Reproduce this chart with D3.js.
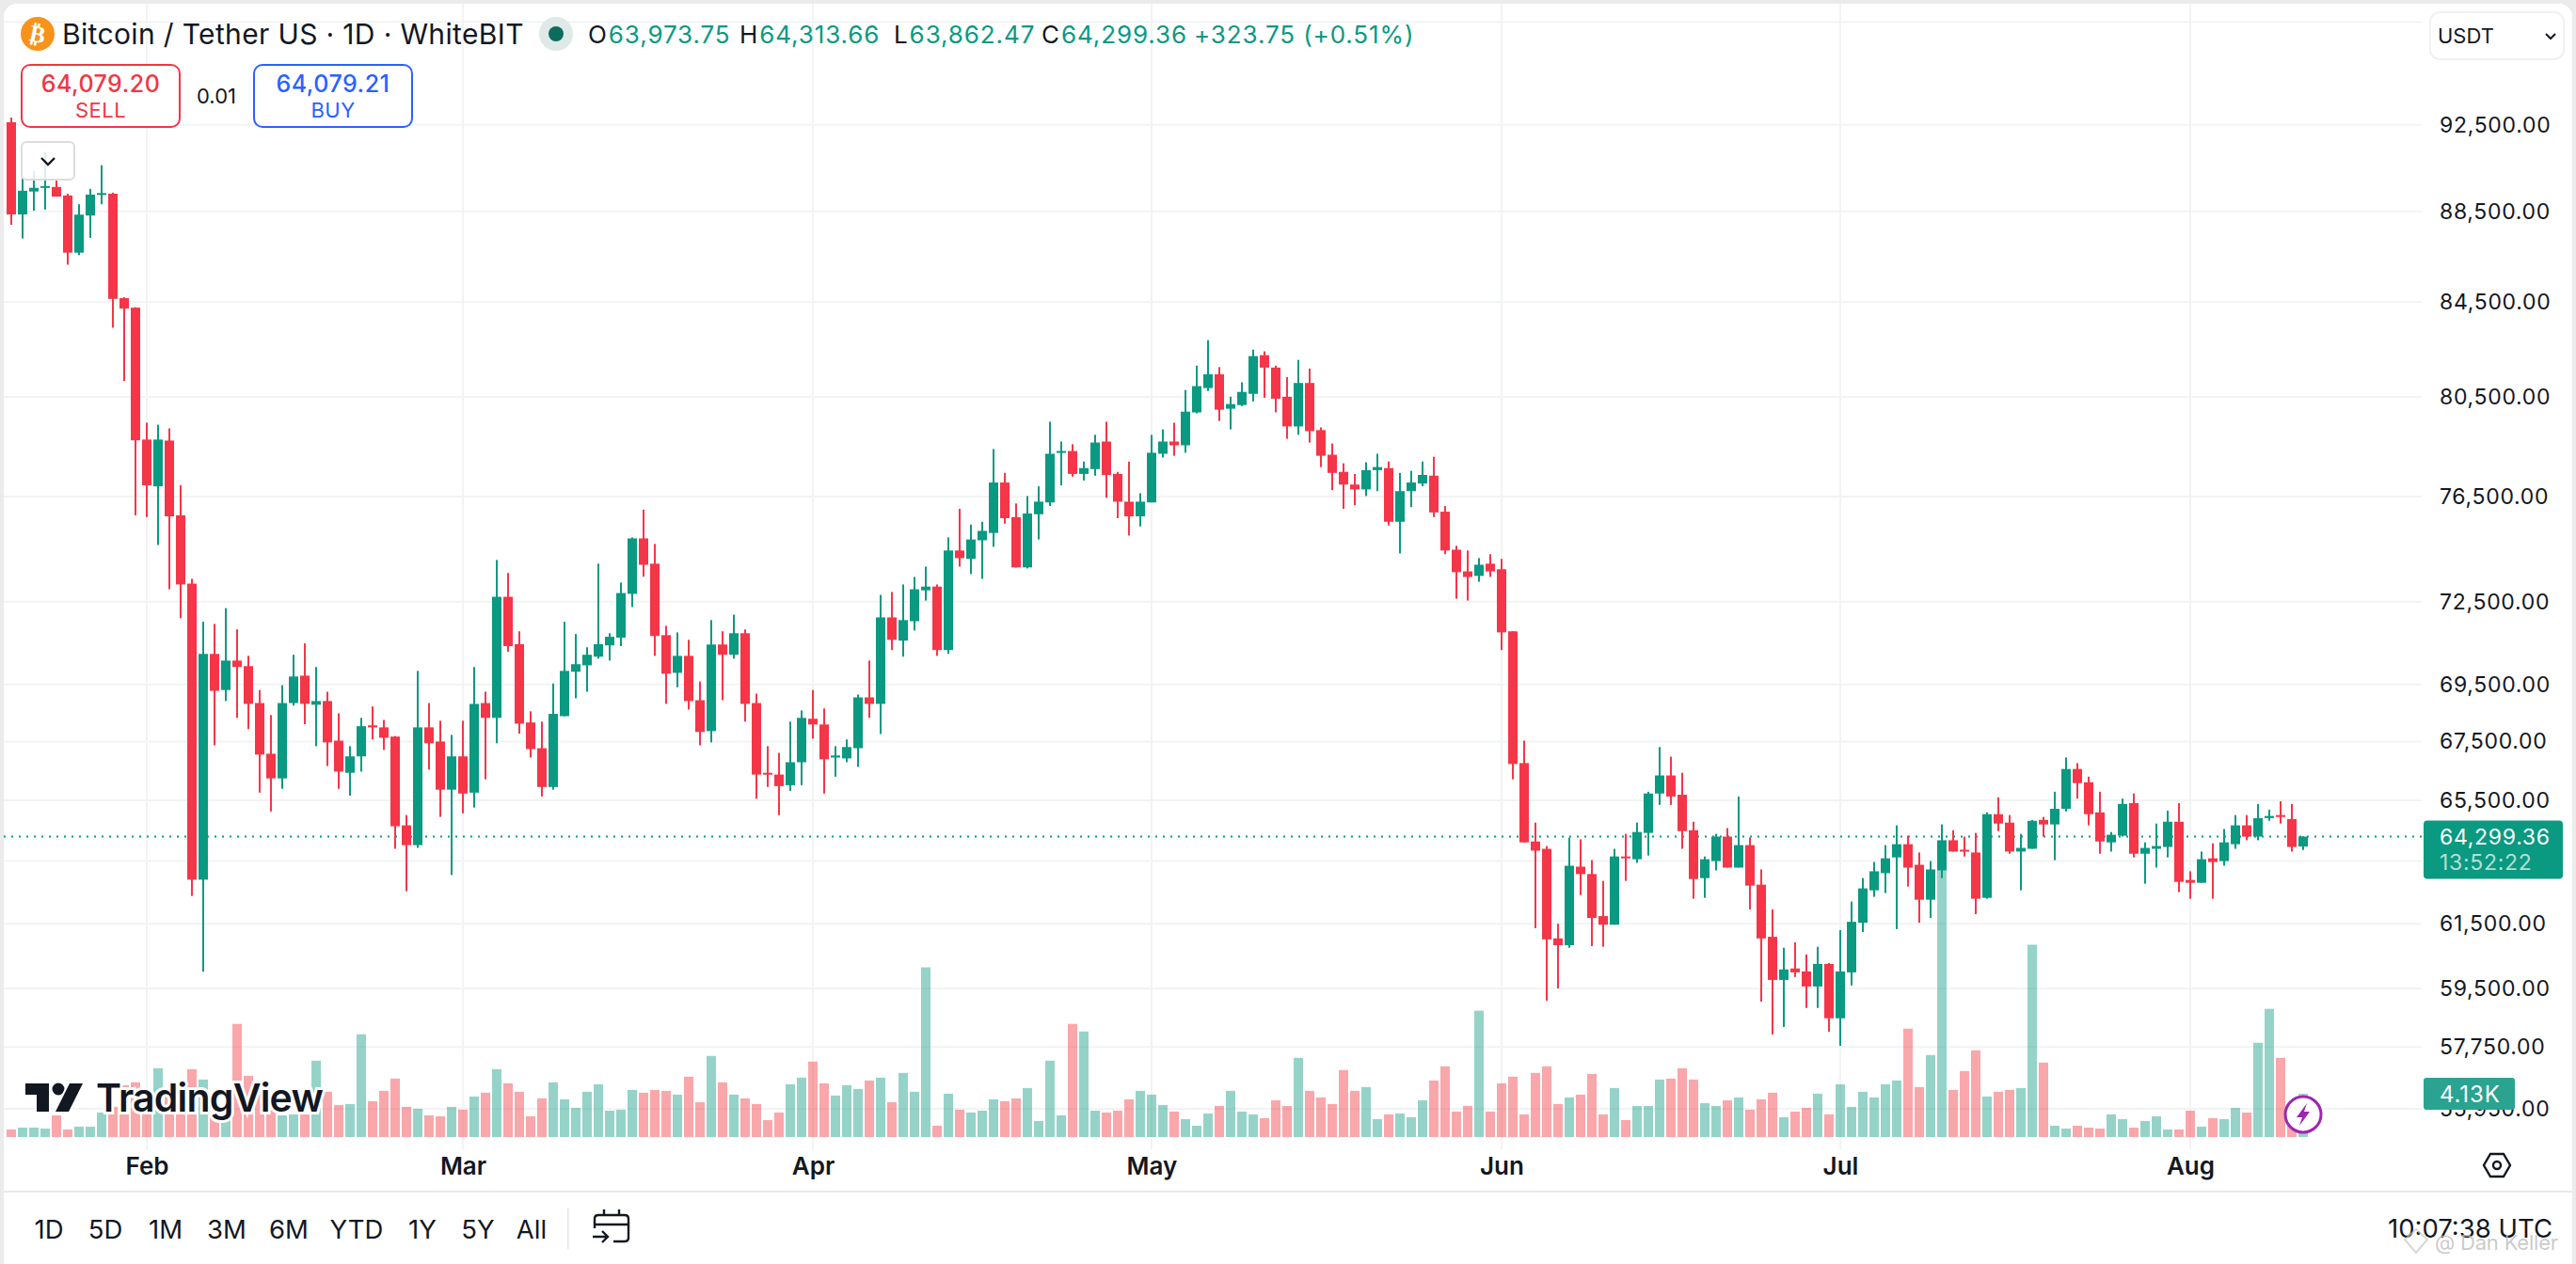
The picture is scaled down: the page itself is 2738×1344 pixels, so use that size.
<!DOCTYPE html>
<html>
<head>
<meta charset="utf-8">
<title>BTC/USDT 1D</title>
<script src="https://cdnjs.cloudflare.com/ajax/libs/d3/7.8.5/d3.min.js"></script>
<style>
  html, body {margin: 0; padding: 0; background: #ebebeb;}
  svg {display: block;}
  text {font-family: Inter, "Noto Sans", sans-serif;}
</style>
</head>
<body>
<svg id="chart" width="2738" height="1344"></svg>
<script>
var firstDay = '2026-01-20';

var opens = [92620,88360,89400,89590,89610,89220,86650,88310,89270,89300,
  84660,84250,78760,76900,78720,75770,73170,62900,70590,69300,
  70350,70150,68840,67080,66240,68840,69810,68780,68910,67530,
  66430,66990,68060,67990,67670,64670,64020,67990,67500,65860,
  66990,65760,68840,68320,72680,70940,68160,67270,65950,68380,
  69950,70180,70490,70900,71180,72790,74880,73920,71270,69910,
  70520,68940,67860,70930,70560,71340,68840,66430,66370,66010,
  66790,68290,68090,66950,66920,67270,69040,68810,71920,71070,
  71780,72920,73060,70730,74420,74100,74810,75090,77050,75700,
  73780,75810,76270,78230,78300,77390,77580,78680,77390,76300,
  75730,76270,78190,78680,78530,79860,80860,81430,80010,80160,
  80620,82230,81710,80500,79290,81070,79140,78150,77470,76970,
  76780,77540,77620,75520,76710,77010,77320,75910,74450,73630,
  73460,73920,73710,71410,66760,64140,63900,61040,60830,63320,
  63080,61740,61470,63650,63560,64420,65730,66340,65690,64510,
  62950,63500,64300,63290,64020,62740,61090,59760,60110,60020,
  59560,60250,58600,59990,61530,62560,63110,63620,64050,63380,
  62260,63200,64180,63870,63780,62320,65040,64760,63810,63900,
  64850,64700,65220,66560,66110,65100,64110,64330,65410,63740,
  63900,63960,64790,62890,62800,63590,63500,64050,64670,64300,
  64910,65010,64880,63973.75];

var highs = [92840,90000,90350,91220,89930,89300,88820,89520,90610,89350,
  84700,84270,79440,79360,79210,76940,73350,71760,71680,72260,
  71480,70520,69300,68420,69470,70560,70970,70120,69240,68480,
  67340,68320,68720,68250,67690,65010,69980,68840,68220,67730,
  68220,70120,69240,74060,73570,71410,68550,68190,69530,71760,
  71310,70830,73920,71340,73210,74920,75990,74670,71610,71370,
  71100,69600,71820,71410,72020,71480,69170,67340,67110,68190,
  68580,69300,68650,67340,67570,69140,70350,72750,72860,73140,
  73420,73810,73140,74920,76020,75410,75520,78380,77430,76230,
  76520,76900,79480,78680,78570,77880,78950,79480,77470,77880,
  76630,78950,79170,79440,80780,81790,82860,81730,80500,81100,
  82460,82390,81790,81310,82030,81670,79250,78600,77810,77390,
  77850,78190,77880,77430,77510,77880,78070,76130,74600,74420,
  74130,74280,74100,71410,67530,64760,63990,61500,64270,64210,
  63530,62860,63900,64390,64760,65790,67310,66980,66430,64790,
  63650,64390,64580,65630,64270,63230,61950,60750,60920,60540,
  60780,60280,61300,62200,62950,63470,64020,64670,64330,63780,
  63500,64700,64510,64300,64420,65100,65600,65010,64390,64850,
  64950,65790,66950,66760,66300,65790,64450,65560,65730,64110,
  64730,65160,65410,63170,63810,64080,64550,65010,65010,65380,
  65190,65470,65380,64313.66];

var lows = [87890,87280,88530,88580,89170,86120,86540,87310,88820,83390,
  81150,75770,75700,74630,72960,71890,62380,60010,67370,68910,
  68320,67930,65760,65130,65890,68750,68100,67340,66660,65890,
  65660,66470,67570,67210,63900,62530,63930,66540,64950,63050,
  65070,65260,66210,67440,70670,67770,66950,65630,65860,68380,
  69010,69240,70420,70350,70870,72300,73430,70520,68810,69400,
  68610,67370,67470,68940,70420,68190,65560,65950,65010,65820,
  66010,67600,65730,66300,66790,66630,68320,67760,70730,70490,
  71440,72540,70520,70590,73810,73530,73350,74560,75450,73780,
  73740,74840,76130,76940,77280,77130,77320,76450,75660,74990,
  75340,76270,78040,78110,78230,79820,80740,79510,79170,80120,
  80310,80460,79860,78790,78950,78640,77660,76750,76020,76160,
  76520,76710,75380,74310,76090,76900,75700,74280,72610,72540,
  73240,73420,70730,66210,64110,61360,59130,59500,60750,62410,
  60800,60780,61470,62860,63440,63680,65350,65350,63900,62290,
  62320,63200,63290,63290,61950,59100,58120,58340,59850,58910,
  58910,58200,57780,59590,61240,62350,62470,61330,62680,61530,
  61680,62950,63810,63650,61800,62290,64480,63740,62560,63900,
  64300,63530,65130,65560,64670,63740,63810,64300,63620,62770,
  63290,63620,62500,62290,62800,62290,63350,63900,64180,64180,
  64820,64730,63810,63862.47];

var closes = [88360,89435,89570,89650,89170,86650,88350,89260,89330,84630,
  84210,78730,76940,78760,75730,73140,62900,70590,69270,70350,
  70120,68810,67050,66240,68840,69780,68810,68910,67470,66470,
  66990,68030,67990,67630,64640,64020,67990,67440,65860,66990,
  65730,68810,68320,72680,70870,68120,67240,65950,68460,69980,
  70220,70560,70940,71210,72820,74880,73880,71240,69880,70520,
  68910,67830,70930,70560,71340,68810,66370,66370,65980,66790,
  68320,68090,66890,67020,67310,69040,68810,71920,71100,71820,
  72960,73060,70730,74420,74130,74840,75170,77050,75660,73780,
  75840,76300,78190,78300,77390,77620,78640,77350,76300,75730,
  76300,78230,78680,78530,79890,80940,81430,79970,80200,80700,
  82190,81710,80420,79290,81070,79100,78110,77430,76970,76780,
  77540,77660,75520,76710,77050,77350,75880,74420,73600,73420,
  73880,73630,71370,66730,64110,63840,61010,60830,63350,63080,
  61680,61470,63650,63590,64450,65730,66340,65630,64480,62920,
  63560,64300,63290,64020,62710,61040,59760,60080,59990,59560,
  60250,58600,60020,61560,62620,63170,63590,64050,63290,62260,
  63230,64180,63810,63810,62290,65040,64730,63810,63930,64820,
  64700,65220,66560,66080,65040,64140,64360,65380,63740,63930,
  63990,64790,62830,62800,63560,63470,64110,64670,64300,64910,
  64980,64950,63960,64299.36];

// volume in thousands
var volumes = [0.72,0.9,0.9,0.81,2.07,0.72,0.99,0.99,2.34,2.9,
  4.95,5.22,3.8,6.57,4.1,4.1,6.48,5.49,2.0,2.6,
  10.8,5.85,4.7,2.9,2.07,2.16,2.16,7.29,4.32,3.06,
  3.15,9.81,3.42,4.41,5.58,2.88,2.7,2.07,1.98,2.88,
  2.61,3.87,4.23,6.48,5.13,4.32,1.98,3.69,5.22,3.6,
  2.79,4.32,5.04,2.52,2.61,4.5,4.23,4.5,4.41,4.05,
  5.76,3.33,7.74,5.22,4.05,3.69,3.15,1.62,2.34,5.04,
  5.67,7.2,5.13,3.96,4.95,4.59,5.4,5.67,3.33,6.12,
  4.32,16.2,1.08,4.14,2.61,2.34,2.52,3.6,3.42,3.69,
  4.68,1.53,7.29,2.07,10.8,10.08,2.52,2.34,2.52,3.6,
  4.41,4.05,3.06,2.43,1.71,1.08,2.25,2.97,4.41,2.43,
  2.16,1.8,3.51,2.97,7.56,4.41,3.78,3.15,6.39,4.41,
  4.77,1.71,2.16,2.25,1.89,3.51,5.4,6.75,2.43,2.97,
  12.06,2.43,5.13,5.76,2.16,6.12,6.75,3.15,3.78,4.05,
  6.03,2.16,4.68,1.62,2.97,2.97,5.49,5.58,6.57,5.49,
  3.24,2.97,3.51,3.78,2.61,3.6,4.23,1.89,2.43,2.79,
  4.14,2.16,5.04,2.88,4.32,3.78,5.04,5.4,10.35,4.77,
  7.83,26,4.5,6.3,8.28,3.87,4.32,4.5,4.68,18.36,
  7.11,1.08,0.81,1.08,0.9,0.81,2.16,1.71,0.9,1.53,
  1.98,0.72,0.72,2.52,0.99,1.8,1.71,2.79,2.34,9.0,
  12.24,7.56,2.6,4.13];

var priceTicks = [97500,92500,88500,84500,80500,76500,72500,69500,67500,65500,63500,61500,59500,57750,55950];
var rangeLabels = ['1D','5D','1M','3M','6M','YTD','1Y','5Y','All'];
var legendValues = [['O','63,973.75'],['H','64,313.66'],['L','63,862.47'],['C','64,299.36']];

var textColor = '#131722', upColor = '#0a9981', downColor = '#f43648', volDownColor = '#f2343a', gridColor = '#f2f3f3';

var svg = d3.select('#chart');
var plotRight = 2574, paneBottom = 1222;

var days = opens.map(function(d, i) {return d3.utcDay.offset(new Date(firstDay), i)});

var x = d3.scaleUtc().domain([days[0], days[days.length - 1]]).range([12, 2448]);
var y = d3.scaleLog().domain([92500, 59500]).range([132.7, 1051]);
var volY = d3.scaleLinear().domain([0, 4.13]).range([1209, 1163]);

var bars = days.map(function(day, i) {
  return {day: day, o: opens[i], h: highs[i], l: lows[i], c: closes[i], v: volumes[i], up: closes[i] >= opens[i]};
});
var lastBar = bars[bars.length - 1];

// page card
svg.append('rect').attr('x', 4).attr('y', 4).attr('width', 2730).attr('height', 1360).attr('rx', 14).attr('fill', '#fff');

// grid
var monthTicks = d3.utcMonth.range(days[0], days[days.length - 1]);
svg.append('g').selectAll('line').data(priceTicks).enter().append('line')
  .attr('x1', 4).attr('x2', plotRight)
  .attr('y1', d => y(d)).attr('y2', d => y(d))
  .attr('stroke', gridColor).attr('stroke-width', 2);
svg.append('g').selectAll('line').data(monthTicks).enter().append('line')
  .attr('x1', d => x(d)).attr('x2', d => x(d))
  .attr('y1', 4).attr('y2', paneBottom)
  .attr('stroke', gridColor).attr('stroke-width', 2);

// volume
svg.append('g').selectAll('rect').data(bars).enter().append('rect')
  .attr('x', d => x(d.day) - 5).attr('width', 10)
  .attr('y', d => volY(d.v)).attr('height', d => volY(0) - volY(d.v))
  .attr('fill', d => d.up ? upColor : volDownColor)
  .attr('fill-opacity', 0.43);

// last price line
svg.append('line')
  .attr('x1', 4).attr('x2', plotRight)
  .attr('y1', y(lastBar.c)).attr('y2', y(lastBar.c))
  .attr('stroke', upColor).attr('stroke-width', 2).attr('stroke-dasharray', '2 6');

// candles
var candle = svg.append('g').selectAll('g').data(bars).enter().append('g')
  .attr('fill', d => d.up ? upColor : downColor);
candle.append('rect')
  .attr('x', d => x(d.day) - 1).attr('width', 2)
  .attr('y', d => y(d.h)).attr('height', d => y(d.l) - y(d.h));
candle.append('rect')
  .attr('x', d => x(d.day) - 5).attr('width', 10)
  .attr('y', d => y(Math.max(d.o, d.c)))
  .attr('height', d => Math.max(2, Math.abs(y(d.o) - y(d.c))));

// axes
var priceAxis = svg.append('g').attr('transform', 'translate(2593,0)')
  .call(d3.axisRight(y).tickValues(priceTicks).tickFormat(d3.format(',.2f')).tickSize(0).tickPadding(0));
priceAxis.select('.domain').remove();
priceAxis.selectAll('text').attr('font-size', 23).attr('letter-spacing', 0.7).attr('fill', textColor).attr('font-family', 'Inter');

var timeAxis = svg.append('g').attr('transform', 'translate(0,1231)')
  .call(d3.axisBottom(x).tickValues(monthTicks).tickFormat(d3.utcFormat('%b')).tickSize(0).tickPadding(0));
timeAxis.select('.domain').remove();
timeAxis.selectAll('text').attr('font-size', 26).attr('font-weight', 600).attr('fill', textColor).attr('font-family', 'Inter');

// separator above the bottom bar
svg.append('rect').attr('x', 4).attr('y', 1266).attr('width', 2730).attr('height', 2).attr('fill', '#e9e9ea');

// price badge
svg.append('rect').attr('x', 2576).attr('y', y(lastBar.c) - 17).attr('width', 148).attr('height', 62).attr('rx', 4).attr('fill', upColor);
svg.append('text').attr('x', 2593).attr('y', y(lastBar.c)).attr('dy', '.36em').attr('font-size', 23).attr('letter-spacing', 0.7).attr('fill', '#fff').text(d3.format(',.2f')(lastBar.c));
svg.append('text').attr('x', 2593).attr('y', y(lastBar.c) + 27).attr('dy', '.36em').attr('font-size', 23).attr('letter-spacing', 0.7).attr('fill', '#fff').attr('fill-opacity', 0.7).text('13:52:22');

// volume badge
svg.append('rect').attr('x', 2576).attr('y', volY(lastBar.v) - 17).attr('width', 97).attr('height', 34).attr('rx', 3).attr('fill', '#2aa391');
svg.append('text').attr('x', 2593).attr('y', volY(lastBar.v)).attr('dy', '.36em').attr('font-size', 24).attr('letter-spacing', 0.9).attr('fill', '#fff').text(d3.format('.2f')(lastBar.v) + 'K');

// bolt marker over the last bar
var bolt = svg.append('g').attr('transform', 'translate(' + x(lastBar.day) + ',1185)');
bolt.append('circle').attr('r', 19).attr('fill', '#fff').attr('stroke', '#9c27b0').attr('stroke-width', 3);
bolt.append('path').attr('d', 'M4,-12 L-7,3 L-1,3 L-4,12 L7,-3 L1,-3 Z').attr('fill', '#9c27b0');

// legend
var btc = svg.append('g').attr('transform', 'translate(40,36)');
btc.append('circle').attr('r', 18).attr('fill', '#f7931a');
btc.append('text').attr('text-anchor', 'middle').attr('dy', '.36em').attr('font-size', 25).attr('font-weight', 700)
  .attr('fill', '#fff').attr('transform', 'rotate(12)').style('font-family', 'DejaVu Sans').text('₿');
svg.append('text').attr('x', 66).attr('y', 47).attr('font-size', 30).attr('letter-spacing', 0.35).attr('fill', textColor).text('Bitcoin / Tether US · 1D · WhiteBIT');
svg.append('circle').attr('cx', 591).attr('cy', 36).attr('r', 18).attr('fill', '#dfe9e7');
svg.append('circle').attr('cx', 591).attr('cy', 36).attr('r', 8).attr('fill', '#0d6b5e');

var legendX = [625, 786, 950, 1107];
legendValues.forEach(function(d, i) {
  var t = svg.append('text').attr('x', legendX[i]).attr('y', 46).attr('font-size', 26).attr('letter-spacing', 0.9);
  t.append('tspan').attr('fill', textColor).text(d[0]);
  t.append('tspan').attr('fill', upColor).attr('dx', 1).text(d[1]);
});
svg.append('text').attr('x', 1269).attr('y', 46).attr('font-size', 26).attr('letter-spacing', 0.9).attr('fill', upColor).text('+323.75 (+0.51%)');

// buy and sell boxes
function tradeBox(x0, width, color, price, label) {
  svg.append('rect').attr('x', x0).attr('y', 69).attr('width', width).attr('height', 66).attr('rx', 9)
    .attr('fill', '#fff').attr('stroke', color).attr('stroke-width', 2);
  svg.append('text').attr('x', x0 + width / 2).attr('y', 89).attr('dy', '.36em').attr('text-anchor', 'middle')
    .attr('font-size', 25).attr('font-weight', 500).attr('letter-spacing', 0.5).attr('fill', color).text(price);
  svg.append('text').attr('x', x0 + width / 2).attr('y', 117).attr('dy', '.36em').attr('text-anchor', 'middle')
    .attr('font-size', 22).attr('letter-spacing', 0.5).attr('fill', color).text(label);
}
tradeBox(23, 168, '#f23645', '64,079.20', 'SELL');
tradeBox(270, 168, '#2962ff', '64,079.21', 'BUY');
svg.append('text').attr('x', 230).attr('y', 102).attr('dy', '.36em').attr('text-anchor', 'middle').attr('font-size', 22).attr('fill', textColor).text('0.01');

// collapse button
svg.append('rect').attr('x', 23).attr('y', 151).attr('width', 56).attr('height', 40).attr('rx', 5)
  .attr('fill', '#fff').attr('fill-opacity', 0.85).attr('stroke', '#dcdcdc').attr('stroke-width', 2);
svg.append('path').attr('d', 'M44,168 L51,175 L58,168').attr('fill', 'none').attr('stroke', textColor).attr('stroke-width', 2.4);

// currency select
svg.append('rect').attr('x', 2583).attr('y', 13).attr('width', 142).attr('height', 50).attr('rx', 10)
  .attr('fill', '#fff').attr('stroke', '#f0f0f0').attr('stroke-width', 2);
svg.append('text').attr('x', 2591).attr('y', 38).attr('dy', '.36em').attr('font-size', 22).attr('fill', textColor).text('USDT');
svg.append('path').attr('d', 'M2706,36 L2711,41 L2716,36').attr('fill', 'none').attr('stroke', textColor).attr('stroke-width', 2);

// tradingview logo
var logo = svg.append('g').attr('fill', textColor);
logo.append('path').attr('d', 'M27,1152 H52 V1182 H39 V1164 H27 Z').attr('stroke', '#fff').attr('stroke-width', 4).attr('paint-order', 'stroke');
logo.append('circle').attr('cx', 62).attr('cy', 1158).attr('r', 6.5).attr('stroke', '#fff').attr('stroke-width', 4).attr('paint-order', 'stroke');
logo.append('path').attr('d', 'M74,1152 H88 L73,1182 H59 Z').attr('stroke', '#fff').attr('stroke-width', 4).attr('paint-order', 'stroke');
logo.append('text').attr('x', 102).attr('y', 1182).attr('font-size', 41).attr('font-weight', 600).attr('letter-spacing', -0.8)
  .attr('stroke', '#fff').attr('stroke-width', 6).attr('paint-order', 'stroke').text('TradingView');

// settings
var gear = svg.append('g').attr('transform', 'translate(2654,1239)').attr('fill', 'none').attr('stroke', textColor).attr('stroke-width', 2.4);
gear.append('path').attr('d', 'M-7,-12 H7 L14,0 L7,12 H-7 L-14,0 Z');
gear.append('circle').attr('r', 4);

// bottom bar
var rangeX = [52, 112, 176, 241, 307, 379, 449, 508, 565];
svg.append('g').selectAll('text').data(rangeLabels).enter().append('text')
  .attr('x', (d, i) => rangeX[i]).attr('y', 1307).attr('dy', '.36em').attr('text-anchor', 'middle')
  .attr('font-size', 27.5).attr('fill', textColor).text(d => d);
svg.append('rect').attr('x', 603).attr('y', 1284).attr('width', 1.5).attr('height', 44).attr('fill', '#e4e4e4');
svg.append('path')
  .attr('d', 'M632,1306 V1296 q0,-4 4,-4 H664 q4,0 4,4 V1316 q0,4 -4,4 H652 M632,1302 H668 M642,1286 V1292 M658,1286 V1292 M630,1315 H646 M640,1309 L646,1315 L640,1321')
  .attr('fill', 'none').attr('stroke', textColor).attr('stroke-width', 2.4);
svg.append('text').attr('x', 2713).attr('y', 1306).attr('dy', '.36em').attr('text-anchor', 'end').attr('font-size', 27.5).attr('fill', textColor).text('10:07:38 UTC');

// watermark
svg.append('path').attr('d', 'M2568,1307 L2580,1318 L2568,1332 L2556,1318 Z').attr('fill', 'none').attr('stroke', '#c6c6c6').attr('stroke-width', 2).attr('opacity', 0.7);
svg.append('text').attr('x', 2588).attr('y', 1329).attr('font-size', 22).attr('letter-spacing', -0.2).attr('fill', '#bdbdbd').attr('fill-opacity', 0.8).text('@ Dan Keller');
</script>
</body>
</html>
